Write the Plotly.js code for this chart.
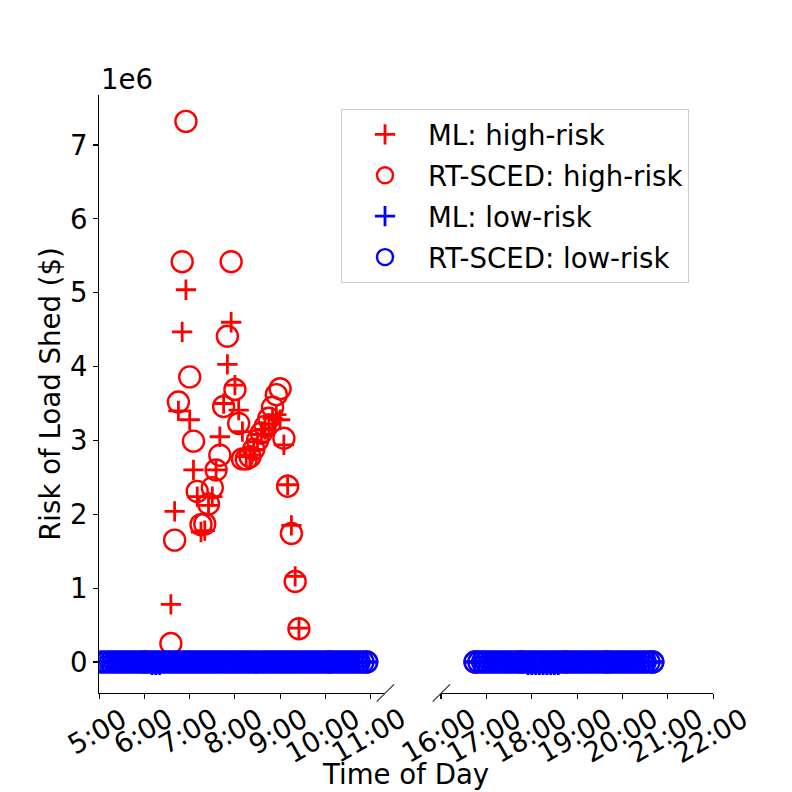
<!DOCTYPE html>
<html>
<head>
<meta charset="utf-8">
<script src="https://cdn.plot.ly/plotly-3.0.1.min.js"></script>
<style>body{margin:0;background:#fff}</style>
</head>
<body>
<div id="plot" style="width:792px;height:792px"></div>
<script>
// risk values are in units of 1e6 $
const redTimesAM = ['6:00', '6:35', '6:40', '6:45', '6:50', '6:55', '7:00', '7:05', '7:10', '7:15', '7:20',
  '7:25', '7:30', '7:35', '7:40', '7:45', '7:50', '7:55', '8:00', '8:05', '8:10', '8:15', '8:20', '8:25',
  '8:30', '8:35', '8:40', '8:45', '8:50', '8:55', '9:00', '9:05', '9:10', '9:15', '9:20', '9:25', '10:05', '10:55']
const mlHighAM = [0, 0.78, 2.04, 3.40, 4.47, 5.04, 3.28, 2.60, 2.24, 1.76, 1.78,
  2.12, 2.24, 2.60, 3.05, 3.50, 4.03, 4.60, 3.75, 3.41, 3.12, 2.78, 2.80, 2.88,
  2.98, 3.08, 3.15, 3.22, 3.30, 3.35, 3.28, 2.94, 2.40, 1.85, 1.16, 0.46, 0, 0]
const rtHighAM = [0, 0.25, 1.65, 3.52, 5.42, 7.32, 3.86, 2.99, 2.31, 1.86, 1.87,
  2.14, 2.36, 2.60, 2.80, 3.46, 4.41, 5.42, 3.69, 3.23, 2.75, 2.75, 2.78, 2.88,
  3.00, 3.10, 3.19, 3.30, 3.45, 3.62, 3.70, 3.03, 2.38, 1.74, 1.09, 0.45, 0, 0]

const redTimesPM = ['16:45', '17:45', '18:45', '19:40', '20:40']
const mlHighPM = [0, 0, 0, 0, 0]
const rtHighPM = [0, 0, 0, 0, 0]

const blueTimesAM = [
  '5:00', '5:05', '5:10', '5:15', '5:20', '5:25', '5:30', '5:35', '5:40', '5:45', '5:50', '5:55',
  '6:00', '6:05', '6:10', '6:15', '6:20', '6:25', '6:30', '6:35', '6:40', '6:45', '6:50', '6:55',
  '7:00', '7:05', '7:10', '7:15', '7:20', '7:25', '7:30', '7:35', '7:40', '7:45', '7:50', '7:55',
  '8:00', '8:05', '8:10', '8:15', '8:20', '8:25', '8:30', '8:35', '8:40', '8:45', '8:50', '8:55',
  '9:00', '9:05', '9:10', '9:15', '9:20', '9:25', '9:30', '9:35', '9:40', '9:45', '9:50', '9:55',
  '10:00', '10:05', '10:10', '10:15', '10:20', '10:25', '10:30', '10:35', '10:40', '10:45', '10:50', '10:55']
const mlLowAM = [
  0, 0, 0, 0, 0, 0, 0, 0, 0, 0, 0, 0,
  0, 0, -0.04, -0.04, -0.04, 0, 0, 0, 0, 0, 0, 0,
  0, 0, 0, 0, 0, 0, 0, 0, 0, 0, 0, 0,
  0, 0, 0, 0, 0, 0, 0, 0, 0, 0, 0, 0,
  0, 0, 0, 0, 0, 0, 0, 0, 0, 0, 0, 0,
  0, 0, 0, 0, 0, 0, 0, 0, 0, 0, 0, 0]
const rtLowAM = [
  0, 0, 0, 0, 0, 0, 0, 0, 0, 0, 0, 0,
  0, 0, 0, 0, 0, 0, 0, 0, 0, 0, 0, 0,
  0, 0, 0, 0, 0, 0, 0, 0, 0, 0, 0, 0,
  0, 0, 0, 0, 0, 0, 0, 0, 0, 0, 0, 0,
  0, 0, 0, 0, 0, 0, 0, 0, 0, 0, 0, 0,
  0, 0, 0, 0, 0, 0, 0, 0, 0, 0, 0, 0]

const blueTimesPM = [
  '16:45', '16:50', '16:55',
  '17:00', '17:05', '17:10', '17:15', '17:20', '17:25', '17:30', '17:35', '17:40', '17:45', '17:50', '17:55',
  '18:00', '18:05', '18:10', '18:15', '18:20', '18:25', '18:30', '18:35', '18:40', '18:45', '18:50', '18:55',
  '19:00', '19:05', '19:10', '19:15', '19:20', '19:25', '19:30', '19:35', '19:40', '19:45', '19:50', '19:55',
  '20:00', '20:05', '20:10', '20:15', '20:20', '20:25', '20:30', '20:35', '20:40']
const mlLowPM = [
  0, 0, 0,
  0, 0, 0, 0, 0, 0, 0, 0, 0, 0, 0, -0.04,
  -0.04, -0.04, -0.04, -0.04, -0.04, -0.04, -0.04, -0.04, 0, 0, 0, 0,
  0, 0, 0, 0, 0, 0, 0, 0, 0, 0, 0, 0,
  0, 0, 0, 0, 0, 0, 0, 0, 0]
const rtLowPM = [
  0, 0, 0,
  0, 0, 0, 0, 0, 0, 0, 0, 0, 0, 0, 0,
  0, 0, 0, 0, 0, 0, 0, 0, 0, 0, 0, 0,
  0, 0, 0, 0, 0, 0, 0, 0, 0, 0, 0, 0,
  0, 0, 0, 0, 0, 0, 0, 0, 0]

const tickHoursAM = [5, 6, 7, 8, 9, 10, 11]
const tickTextAM = ['5:00', '6:00', '7:00', '8:00', '9:00', '10:00', '11:00']
const tickHoursPM = [16, 17, 18, 19, 20, 21, 22]
const tickTextPM = ['16:00', '17:00', '18:00', '19:00', '20:00', '21:00', '22:00']
const yTicks = [0, 1, 2, 3, 4, 5, 6, 7]

const FONT = 'DejaVu Sans'
const FS = 27.6

function hrs(t) {
  let p = t.split(':')
  return +p[0] + (+p[1]) / 60
}
// pixel -> paper
function px(x) { return x / 792 }
function py(y) { return 1 - y / 792 }

function trace(name, times, vals, xa, kind, color, show) {
  let marker = kind == 'ml'
    ? { symbol: 'cross-thin-open', size: 14.5, line: { width: 2.8, color: color } }
    : { symbol: 'circle-open', size: 21, line: { width: 2.4, color: color } }
  marker.color = color
  return {
    x: times.map(hrs), y: vals, xaxis: xa, yaxis: 'y',
    type: 'scatter', mode: 'markers', name: name,
    legendgroup: name, showlegend: show, marker: marker
  }
}

let data = [
  trace('ML: high-risk', redTimesAM, mlHighAM, 'x', 'ml', '#ff0000', true),
  trace('RT-SCED: high-risk', redTimesAM, rtHighAM, 'x', 'rt', '#ff0000', true),
  trace('ML: low-risk', blueTimesAM, mlLowAM, 'x', 'ml', '#0000ff', true),
  trace('RT-SCED: low-risk', blueTimesAM, rtLowAM, 'x', 'rt', '#0000ff', true),
  trace('ML: high-risk', redTimesPM, mlHighPM, 'x2', 'ml', '#ff0000', false),
  trace('RT-SCED: high-risk', redTimesPM, rtHighPM, 'x2', 'rt', '#ff0000', false),
  trace('ML: low-risk', blueTimesPM, mlLowPM, 'x2', 'ml', '#0000ff', false),
  trace('RT-SCED: low-risk', blueTimesPM, rtLowPM, 'x2', 'rt', '#0000ff', false)
]

let annotations = []
function tickLabels(hours, texts, xref) {
  for (let i = 0; i < hours.length; i++) {
    annotations.push({
      x: hours[i], y: py(700), xref: xref, yref: 'paper', xshift: -2,
      text: texts[i], showarrow: false, textangle: -30,
      xanchor: 'center', yanchor: 'top', borderpad: 0,
      font: { family: FONT, size: FS, color: '#000' }
    })
  }
}
tickLabels(tickHoursAM, tickTextAM, 'x')
tickLabels(tickHoursPM, tickTextPM, 'x2')
annotations.push({
  x: px(405), y: 0, xref: 'paper', yref: 'paper', text: 'Time of Day',
  showarrow: false, xanchor: 'center', yanchor: 'bottom', borderpad: 0,
  font: { family: FONT, size: FS, color: '#000' }
})
annotations.push({
  x: px(99), y: py(80), xref: 'paper', yref: 'paper', text: '1e6',
  showarrow: false, xanchor: 'left', yanchor: 'middle',
  font: { family: FONT, size: FS, color: '#000' }
})

// diagonal break marks
let brk = { type: 'line', xref: 'paper', yref: 'paper', line: { color: '#333', width: 1.2 } }
let shapes = [
  Object.assign({}, brk, { x0: px(376.7), y0: py(701.7), x1: px(394), y1: py(684.3) }),
  Object.assign({}, brk, { x0: px(432.7), y0: py(701.7), x1: px(450), y1: py(684.3) })
]

let xBase = {
  showgrid: false, zeroline: false, showline: true, linecolor: '#000', linewidth: 1.1,
  ticks: 'outside', ticklen: 5, tickwidth: 1.1, tickcolor: '#000',
  showticklabels: false, anchor: 'y', fixedrange: true
}

let layout = {
  width: 792, height: 792,
  margin: { l: 0, r: 0, t: 0, b: 0, autoexpand: false },
  paper_bgcolor: '#fff', plot_bgcolor: '#fff',
  font: { family: FONT, size: FS, color: '#000' },
  showlegend: true,
  xaxis: Object.assign({}, xBase, { domain: [px(99.3), px(385)], range: [5, 5 + (385 - 99.3) / 45.2], tickvals: tickHoursAM }),
  xaxis2: Object.assign({}, xBase, { domain: [px(441), px(713.3)], range: [16, 22], tickvals: tickHoursPM }),
  yaxis: {
    domain: [py(693), py(95)], range: [-0.4197, 7.677], anchor: 'x',
    showgrid: false, zeroline: false, showline: true, linecolor: '#000', linewidth: 1.1,
    ticks: 'outside', ticklen: 5, tickwidth: 1.1, tickcolor: '#000',
    tickvals: yTicks, ticktext: yTicks.map(String), tickfont: { family: FONT, size: FS },
    title: { text: 'Risk of Load Shed ($)', font: { family: FONT, size: FS }, standoff: 1 },
    automargin: false
  },
  legend: {
    x: px(341), y: py(109), xanchor: 'left', yanchor: 'top',
    bgcolor: '#fff', bordercolor: '#cccccc', borderwidth: 1,
    font: { family: FONT, size: FS, color: '#000' },
    itemwidth: 76, tracegroupgap: 2
  },
  annotations: annotations,
  shapes: shapes
}

Plotly.newPlot('plot', data, layout, { displayModeBar: false, staticPlot: true })
</script>
</body>
</html>
